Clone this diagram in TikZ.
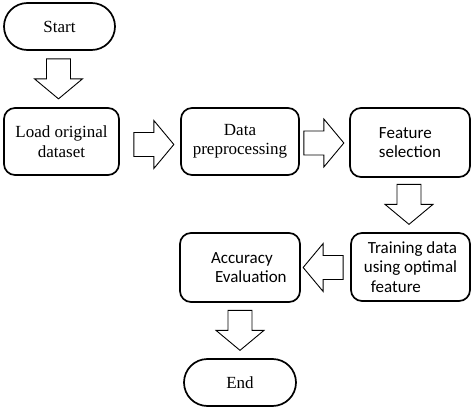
\documentclass[tikz,border=0pt]{standalone}
\usepackage{fontspec}
\setmainfont{Liberation Serif}
\newfontfamily\calfont{Carlito}
\usetikzlibrary{shapes.misc,calc}
\begin{document}
\begin{tikzpicture}[x=1pt,y=-1pt,
  box/.style={draw, line width=1.7pt, rounded corners=11pt, align=center, inner sep=0pt,
    font=\fontsize{17}{19.5}\selectfont},
  term/.style={draw, line width=1.7pt, rounded rectangle, inner sep=0pt,
    font=\fontsize{17}{19.5}\selectfont},
  sansbox/.style={box, font=\calfont\fontsize{17}{19.5}\selectfont},
  blockarrow/.pic={\draw[line width=0.9pt, line join=miter]
    (0,-12) -- (20,-12) -- (20,-24) -- (40,0) -- (20,24) -- (20,12) -- (0,12) -- cycle;}
]
\useasboundingbox (0,0) rectangle (474,409);
\node[term, minimum width=111pt, minimum height=47pt] (start) at (59.5,26.5) {Start};
\node[box, minimum width=115pt, minimum height=67pt] (load) at (61.5,141.5) {Load original\\dataset};
\node[box, minimum width=118pt, minimum height=67pt] (prep) at (240,141.5) {Data\\preprocessing};
\node[sansbox, align=left, minimum width=120pt, minimum height=69pt] (feat) at (410,142.5) {Feature\\selection};
\node[sansbox, align=left, minimum width=119pt, minimum height=68pt] (train) at (410.5,267) {\hspace{4pt}Training data\\using optimal\\\hspace{7pt}feature};
\node[sansbox, align=left, text width=100pt, inner xsep=10pt, minimum height=69pt] (acc) at (240,267.5) {\hspace{21pt}Accuracy\\\hspace{25pt}Evaluation};
\node[term, minimum width=112pt, minimum height=47pt] (end) at (240,382.5) {End};
% block arrows (tails)
\coordinate (a1) at ($(start.south)+(-1,8)$);
\coordinate (a2) at ($(load.east)+(14,3)$);
\coordinate (a3) at ($(prep.east)+(4,1.5)$);
\coordinate (a4) at ($(feat.south)+(-1,6.5)$);
\coordinate (a5) at ($(train.west)+(-7,0.5)$);
\coordinate (a6) at ($(acc.south)+(0,7.5)$);
\pic[rotate=-90] at (a1) {blockarrow};
\pic at (a2) {blockarrow};
\pic at (a3) {blockarrow};
\pic[rotate=-90] at (a4) {blockarrow};
\pic[rotate=180] at (a5) {blockarrow};
\pic[rotate=-90] at (a6) {blockarrow};
\end{tikzpicture}
\end{document}
